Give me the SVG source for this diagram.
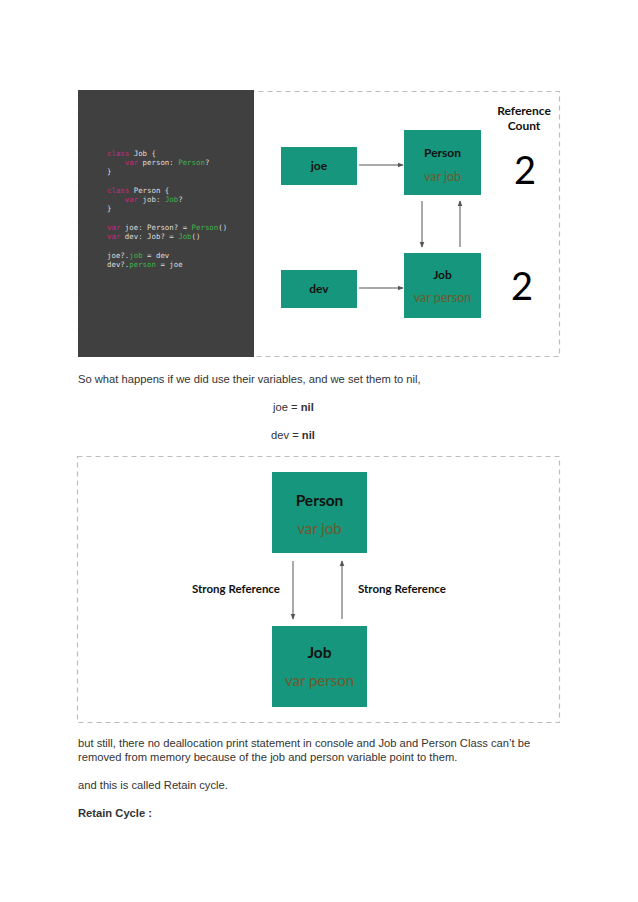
<svg xmlns="http://www.w3.org/2000/svg" width="638" height="902" viewBox="0 0 638 902">
<style>
.frame{fill:none;stroke:#bdbdbd;stroke-width:1.2;stroke-dasharray:5 4}
.box{fill:#16967c}
.nm{font-family:Lato,"Open Sans",sans-serif;font-weight:bold;fill:#111;text-anchor:middle}
.vr{font-family:Lato,"Open Sans",sans-serif;fill:#6e5a2c;text-anchor:middle}
.lbl{font-family:Lato,"Open Sans",sans-serif;font-weight:bold;fill:#111;text-anchor:middle}
.cnt{font-family:Lato,"Open Sans",sans-serif;fill:#000;text-anchor:middle}
.code{font-family:"DejaVu Sans Mono","Liberation Mono",monospace;font-size:7.4px;fill:#dedede;white-space:pre}
.kw{fill:#c8287e}
.ty{fill:#3db54a}
.body{font-family:"Liberation Sans",Arial,sans-serif;font-size:11.2px;fill:#333}
.conn line{stroke:#555;stroke-width:1}
</style>
<defs>
<marker id="ah" viewBox="0 0 8 8" refX="7" refY="4" markerWidth="6" markerHeight="6" orient="auto" markerUnits="userSpaceOnUse">
<path d="M0,0.8 L8,4 L0,7.2 z" fill="#555"/>
</marker>
</defs>
<rect width="638" height="902" fill="#fff"/>

<g id="figure1">
<rect class="frame" x="78.5" y="91.5" width="481" height="265"/>
<rect id="code-panel" x="78" y="90" width="176" height="267" fill="#404040"/>
<g id="code" xml:space="preserve">
<text class="code" x="107" y="155.5"><tspan class="kw">class</tspan> Job {</text>
<text class="code" x="107" y="164.8">    <tspan class="kw">var</tspan> person: <tspan class="ty">Person</tspan>?</text>
<text class="code" x="107" y="174.1">}</text>
<text class="code" x="107" y="192.7"><tspan class="kw">class</tspan> Person {</text>
<text class="code" x="107" y="202">    <tspan class="kw">var</tspan> job: <tspan class="ty">Job</tspan>?</text>
<text class="code" x="107" y="211.3">}</text>
<text class="code" x="107" y="229.9"><tspan class="kw">var</tspan> joe: Person? = <tspan class="ty">Person</tspan>()</text>
<text class="code" x="107" y="239.2"><tspan class="kw">var</tspan> dev: Job? = <tspan class="ty">Job</tspan>()</text>
<text class="code" x="107" y="257.8">joe?.<tspan class="ty">job</tspan> = dev</text>
<text class="code" x="107" y="267.1">dev?.<tspan class="ty">person</tspan> = joe</text>
</g>

<g id="joe"><rect class="box" x="281" y="147" width="76" height="38"/><text class="nm" x="319" y="169.5" font-size="12">joe</text></g>
<g id="dev"><rect class="box" x="281" y="270" width="76" height="38"/><text class="nm" x="319" y="292.5" font-size="12">dev</text></g>
<g id="person1"><rect class="box" x="404" y="130" width="77" height="65"/><text class="nm" x="442.5" y="156.5" font-size="12">Person</text><text class="vr" x="442.5" y="180.5" font-size="12.5">var job</text></g>
<g id="job1"><rect class="box" x="404" y="253" width="77" height="65"/><text class="nm" x="442.5" y="278.5" font-size="12">Job</text><text class="vr" x="442.5" y="301.5" font-size="12.5">var person</text></g>

<g id="refcount">
<text class="lbl" x="524" y="115" font-size="12">Reference</text>
<text class="lbl" x="524" y="130" font-size="12">Count</text>
<text class="cnt" x="525" y="184" font-size="38">2</text>
<text class="cnt" x="522" y="300" font-size="38">2</text>
</g>

<g class="conn" id="connectors1">
<line x1="359" y1="165" x2="403" y2="165" marker-end="url(#ah)"/>
<line x1="359" y1="288" x2="403" y2="288" marker-end="url(#ah)"/>
<line x1="422" y1="201" x2="422" y2="247" marker-end="url(#ah)"/>
<line x1="460" y1="247" x2="460" y2="201" marker-end="url(#ah)"/>
</g>
</g>

<text class="body" x="78" y="383">So what happens if we did use their variables, and we set them to nil,</text>
<text class="body" x="273" y="411">joe = <tspan font-weight="bold">nil</tspan></text>
<text class="body" x="271" y="439">dev = <tspan font-weight="bold">nil</tspan></text>

<g id="figure2">
<rect class="frame" x="77.5" y="456.5" width="482" height="266"/>
<g id="person2"><rect class="box" x="272" y="472" width="95" height="81"/><text class="nm" x="319.5" y="505.5" font-size="15.5">Person</text><text class="vr" x="319.5" y="534" font-size="15">var job</text></g>
<g id="job2"><rect class="box" x="272" y="626" width="95" height="81"/><text class="nm" x="319.5" y="657.5" font-size="15.5">Job</text><text class="vr" x="319.5" y="686" font-size="15">var person</text></g>
<g class="conn" id="connectors2">
<line x1="293" y1="561" x2="293" y2="619" marker-end="url(#ah)"/>
<line x1="342" y1="619" x2="342" y2="561" marker-end="url(#ah)"/>
</g>
<text class="lbl" x="236" y="593" font-size="11.5">Strong Reference</text>
<text class="lbl" x="402" y="593" font-size="11.5">Strong Reference</text>
</g>

<text class="body" x="78" y="747">but still, there no deallocation print statement in console and Job and Person Class can’t be</text>
<text class="body" x="78" y="761">removed from memory because of the job and person variable point to them.</text>
<text class="body" x="78" y="789">and this is called Retain cycle.</text>
<text class="body" x="78" y="817" font-weight="bold">Retain Cycle :</text>
</svg>
